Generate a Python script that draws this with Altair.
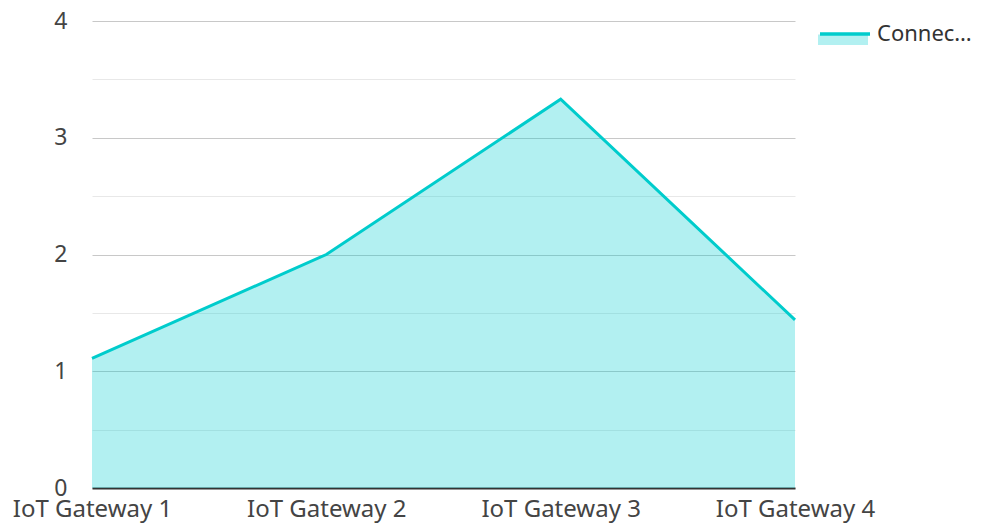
import altair as alt
import pandas as pd

categories = ["IoT Gateway 1", "IoT Gateway 2", "IoT Gateway 3", "IoT Gateway 4"]
values = [1.11, 2.0, 3.33, 1.44]
series_name = "Connected Devices"

df = pd.DataFrame({"gateway": categories, "value": values, "series": [series_name] * len(categories)})

FONT = "Noto Sans"
LINE = "#00cccc"

x_enc = alt.X("gateway:N", sort=categories, title=None,
              scale=alt.Scale(type="point", padding=0),
              axis=alt.Axis(labelAngle=0, labelFontSize=24, labelColor="#444444", labelFont=FONT,
                            domainColor="#333333", domainWidth=2, ticks=False, grid=False,
                            labelPadding=9))
y_enc = alt.Y("value:Q", title=None,
              scale=alt.Scale(domain=[0, 4], nice=False),
              axis=alt.Axis(values=[0, 0.5, 1, 1.5, 2, 2.5, 3, 3.5, 4],
                            labelExpr="datum.value % 1 === 0 ? format(datum.value, 'd') : ''",
                            labelFontSize=23, labelColor="#444444", labelFont=FONT,
                            labelPadding=25, domain=False, ticks=False,
                            gridColor={"condition": {"test": "datum.value % 1 === 0", "value": "#c8c8c8"}, "value": "#e8e8e8"},
                            gridWidth=1))

area = alt.Chart(df).mark_area(fillOpacity=0.3, line=False).encode(
    x=x_enc, y=y_enc,
    fill=alt.Fill("series:N", scale=alt.Scale(range=["#00ced1"]),
                  legend=alt.Legend(orient="none", legendX=726, legendY=-14, title=None,
                                    symbolType="M-1,0.1 L1,0.1 L1,0.52 L-1,0.52 Z",
                                    symbolSize=2500, symbolOpacity=0.3, symbolStrokeWidth=0,
                                    labelExpr="''", padding=0, labelOffset=5,
                                    labelFontSize=22, labelLimit=100)),
)
line = alt.Chart(df).mark_line(strokeWidth=3).encode(
    x=x_enc, y=y_enc,
    stroke=alt.Stroke("series:N", scale=alt.Scale(range=[LINE]),
                      legend=alt.Legend(orient="none", legendX=726, legendY=-14, title=None,
                                        symbolType="stroke", symbolSize=2500, symbolStrokeWidth=3.5,
                                        padding=0, labelOffset=5, labelFontSize=22,
                                        labelColor="#333333", labelFont=FONT, labelLimit=100)),
)

chart = alt.layer(area, line).resolve_scale(fill="independent", stroke="independent").properties(
    width=703, height=467,
    autosize=alt.AutoSizeParams(type="none"),
    padding={"left": 84, "top": 13, "right": 183, "bottom": 35},
).configure(font=FONT).configure_view(stroke=None)

chart.save("out.html", embed_options={"renderer": "svg", "actions": False})
